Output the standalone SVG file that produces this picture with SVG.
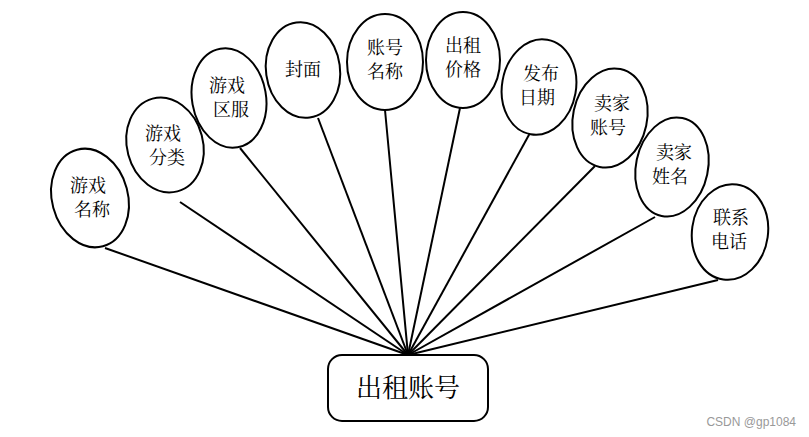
<svg xmlns="http://www.w3.org/2000/svg" width="809" height="437" viewBox="0 0 809 437">
<style>
.e{fill:#fff;stroke:#000;stroke-width:2}
.t{font-family:"Noto Serif CJK SC","Noto Sans CJK SC",serif;font-size:18px;text-anchor:middle;fill:#000}
.c line{stroke:#000;stroke-width:2}
</style>
<rect width="809" height="437" fill="#fff"/>
<g class="c">
<line x1="105" y1="248" x2="408" y2="355"/>
<line x1="180" y1="202" x2="408" y2="355"/>
<line x1="240" y1="148" x2="408" y2="355"/>
<line x1="318" y1="118" x2="408" y2="355"/>
<line x1="385" y1="110" x2="408" y2="355"/>
<line x1="460" y1="108" x2="408" y2="355"/>
<line x1="530" y1="133" x2="408" y2="355"/>
<line x1="595" y1="166" x2="408" y2="355"/>
<line x1="655" y1="217" x2="408" y2="355"/>
<line x1="718" y1="280" x2="408" y2="355"/>
</g>
<g id="n1"><ellipse class="e" cx="90" cy="198" rx="38" ry="50" transform="rotate(-15 90 198)"/><text class="t" x="88" y="192">游戏</text><text class="t" x="92" y="216">名称</text></g>
<g id="n2"><ellipse class="e" cx="165" cy="145" rx="38" ry="48" transform="rotate(-15 165 145)"/><text class="t" x="163" y="140">游戏</text><text class="t" x="167" y="164">分类</text></g>
<g id="n3"><ellipse class="e" cx="229" cy="98" rx="37" ry="50" transform="rotate(-10 229 98)"/><text class="t" x="227" y="92">游戏</text><text class="t" x="231" y="116">区服</text></g>
<g id="n4"><ellipse class="e" cx="303" cy="70" rx="37" ry="48" transform="rotate(-8 303 70)"/><text class="t" x="303" y="76">封面</text></g>
<g id="n5"><ellipse class="e" cx="385" cy="62" rx="38" ry="48"/><text class="t" x="385" y="54">账号</text><text class="t" x="385" y="78">名称</text></g>
<g id="n6"><ellipse class="e" cx="463" cy="60" rx="37" ry="48"/><text class="t" x="463" y="52">出租</text><text class="t" x="463" y="76">价格</text></g>
<g id="n7"><ellipse class="e" cx="539" cy="87" rx="37" ry="48" transform="rotate(10 539 87)"/><text class="t" x="541" y="80">发布</text><text class="t" x="537" y="104">日期</text></g>
<g id="n8"><ellipse class="e" cx="610" cy="118" rx="37" ry="50" transform="rotate(12 610 118)"/><text class="t" x="612" y="110">卖家</text><text class="t" x="608" y="134">账号</text></g>
<g id="n9"><ellipse class="e" cx="672" cy="167" rx="36" ry="50" transform="rotate(12 672 167)"/><text class="t" x="674" y="159">卖家</text><text class="t" x="670" y="183">姓名</text></g>
<g id="n10"><ellipse class="e" cx="730" cy="232" rx="38" ry="48" transform="rotate(8 730 232)"/><text class="t" x="731" y="224">联系</text><text class="t" x="729" y="248">电话</text></g>
<g id="main"><rect x="328" y="355" width="160" height="66" rx="14" fill="#fff" stroke="#000" stroke-width="2"/><text class="t" x="408" y="397" style="font-size:26px">出租账号</text></g>
<text x="796" y="426" style="font-family:'Liberation Sans',sans-serif;font-size:12px;fill:#999;text-anchor:end">CSDN @gp1084</text>
</svg>
